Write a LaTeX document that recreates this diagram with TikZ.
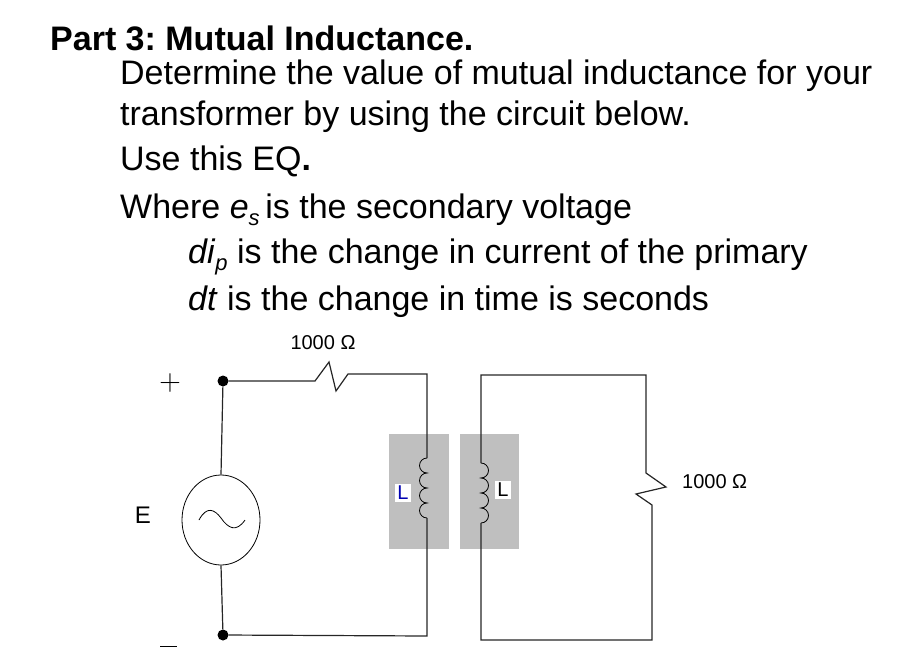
\documentclass[tikz,border=0pt]{standalone}
\usepackage{fontspec}
\setmainfont{Liberation Sans}
\usetikzlibrary{shapes.geometric}
\newcommand{\mysub}[1]{\raisebox{-0.35ex}{\fontsize{22}{24}\selectfont\itshape #1}}
\begin{document}
\frenchspacing
\begin{tikzpicture}[x=1pt,y=-1pt,
  txt/.style={anchor=west,inner sep=0pt,font=\fontsize{34}{36}\selectfont},
  lbl/.style={inner sep=0pt,font=\fontsize{20}{22}\selectfont},
  wire/.style={draw=black!85,line width=1.2pt},
  dotn/.style={circle,fill=black,inner sep=0pt,minimum size=11pt},
  core/.style={fill=black!25,draw=none}]
\useasboundingbox (0,0) rectangle (915,658);
\node[txt,font=\bfseries\fontsize{34}{36}\selectfont] (t0) at (50,38) {Part 3: Mutual Inductance.};
\node[txt] (t1) at (120,76) {Determine the value of mutual inductance for your};
\node[txt] (t2) at (120,117) {transformer by using the circuit below.};
\node[txt] (t3) at (120,161) {Use this EQ\textbf{.}};
\node[txt] (t4) at (120,210) {Where \textit{e}\mysub{s}\,is the secondary voltage};
\node[txt] (t5) at (188,257) {\textit{di}\mysub{p} is the change in current of the primary};
\node[txt] (t6) at (188,302) {\textit{dt} is the change in time is seconds};
% cores
\fill[core] (389,434) rectangle (449,549);
\fill[core] (460,434) rectangle (519,549);
% nodes
\node[dotn] (p) at (223,381) {};
\node[dotn] (m) at (223,635) {};
\node[draw,ellipse,line width=0.8pt,minimum width=78pt,minimum height=90pt,inner sep=0pt] (src) at (221,520) {};
\draw[line width=0.8pt] (199,520) .. controls (207,505) and (215,510) .. (221,518) .. controls (228,528) and (236,533) .. (245,520);
\draw[wire] (p) -- (src.north);
\draw[wire] (src.south) -- (m);
% primary
\coordinate (c1t) at (427,458);
\coordinate (c1b) at (427,518);
\draw[line width=0.8pt] (c1t) \foreach \i in {0,1,2,3}{ arc[start angle=270,end angle=90,radius=7.5] };
\draw[wire] (p) -- (315,381) -- (329,362) -- (336,391) -- (348,374) -- (427,374) -- (c1t);
\draw[wire] (c1b) -- (427,636) -- (m);
% secondary
\coordinate (c2t) at (481,463);
\coordinate (c2b) at (481,523);
\draw[line width=0.8pt] (c2t) \foreach \i in {0,1,2,3}{ arc[start angle=-90,end angle=90,radius=7.5] };
\draw[wire] (c2t) -- (481,375) -- (646,375) -- (646,473) -- (666,487) -- (636,494) -- (652,505) -- (652,640) -- (481,640) -- (c2b);
% labels
\node[lbl,fill=white,inner sep=2pt,text=blue!70!black] (l1) at (403,493) {L};
\node[lbl,fill=white,inner sep=2pt] (l2) at (503,490) {L};
\node[lbl] (r1) at (323,343) {1000 Ω};
\node[lbl,anchor=west] (r2) at (682,482) {1000 Ω};
\node[font=\fontsize{30}{32}\selectfont\sffamily] (plus) at (170,383) {+};
\node[font=\fontsize{24}{26}\selectfont] (E) at (143,515) {E};
\draw[line width=0.8pt] (160,646) -- (177,646);
\end{tikzpicture}
\end{document}
